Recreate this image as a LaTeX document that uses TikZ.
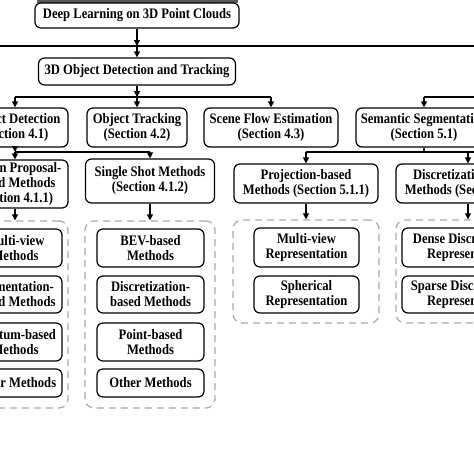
\documentclass[tikz,border=0pt]{standalone}
\usepackage{fontspec}
\setmainfont{Liberation Serif}[FakeStretch=0.87]
\usetikzlibrary{arrows.meta}
\newcommand\dgfont{\fontsize{14.5}{15}\selectfont\bfseries}
\begin{document}
\begin{tikzpicture}[x=1pt,y=-1pt,
  box/.style={draw, line width=1.2pt, rounded corners=6pt, align=center, inner sep=0pt, font=\dgfont},
  grp/.style={draw=gray!65, dash pattern=on 7pt off 5pt, line width=1.3pt, rounded corners=9pt, inner sep=0pt},
  arr/.style={-{Triangle[length=6pt,width=6pt]}, line width=1.2pt},
  ln/.style={line width=1.2pt}]
\useasboundingbox (0,0) rectangle (474,474);
\clip (0,0) rectangle (474,474);
\fill[white] (0,0) rectangle (474,474);
\fill[black!65] (37,0) rectangle (238,2.5);

% level 1 and 2
\node[box, minimum width=204pt, minimum height=25pt] (top) at (137,15.5) {Deep Learning on 3D Point Clouds};
\node[box, minimum width=197pt, minimum height=27pt] (odt) at (137,71.5) {3D Object Detection and Tracking};

% level 3
\node[box, minimum width=106pt, minimum height=39pt] (od) at (15,127.5) {Object Detection\\(Section 4.1)};
\node[box, minimum width=100pt, minimum height=39pt] (ot) at (137,127.5) {Object Tracking\\(Section 4.2)};
\node[box, minimum width=134pt, minimum height=39pt] (sf) at (271,127.5) {Scene Flow Estimation\\(Section 4.3)};
\node[box, minimum width=136pt, minimum height=39pt] (ss) at (424,127.5) {Semantic Segmentation\\(Section 5.1)};

% level 4
\node[box, minimum width=106pt, minimum height=48pt] (rp) at (15,184) {Region Proposal-\\based Methods\\(Section 4.1.1)};
\node[box, minimum width=129pt, minimum height=44pt] (ssm) at (150,181) {Single Shot Methods\\(Section 4.1.2)};
\node[box, minimum width=144pt, minimum height=39pt] (pb) at (306,183.5) {Projection-based\\Methods (Section 5.1.1)};
\node[box, minimum width=144pt, minimum height=39pt] (db) at (468,183.5) {Discretization-based\\Methods (Section 5.1.2)};

% dashed groups
\node[grp, minimum width=106pt, minimum height=187pt] (c1) at (15,314.5) {};
\node[grp, minimum width=130pt, minimum height=187pt] (c2) at (150,314.5) {};
\node[grp, minimum width=146pt, minimum height=103pt] (c3) at (306,271.5) {};
\node[grp, minimum width=144pt, minimum height=103pt] (c4) at (468,271.5) {};

% inner boxes, left column
\node[box, minimum width=94pt, minimum height=38pt] (l1) at (15,248) {Multi-view\\Methods};
\node[box, minimum width=94pt, minimum height=37pt] (l2) at (15,294.5) {Segmentation-\\based Methods};
\node[box, minimum width=94pt, minimum height=38pt] (l3) at (15,342) {Frustum-based\\Methods};
\node[box, minimum width=94pt, minimum height=28pt] (l4) at (15,383) {Other Methods};

% single shot column
\node[box, minimum width=107pt, minimum height=38pt] (s1) at (150.5,248) {BEV-based\\Methods};
\node[box, minimum width=107pt, minimum height=37pt] (s2) at (150.5,294.5) {Discretization-\\based Methods};
\node[box, minimum width=107pt, minimum height=38pt] (s3) at (150.5,342) {Point-based\\Methods};
\node[box, minimum width=107pt, minimum height=28pt] (s4) at (150.5,383) {Other Methods};

% projection column
\node[box, minimum width=105pt, minimum height=39pt] (p1) at (306.5,247.5) {Multi-view\\Representation};
\node[box, minimum width=105pt, minimum height=37pt] (p2) at (306.5,294.5) {Spherical\\Representation};

% discretization column
\node[box, minimum width=132pt, minimum height=39pt] (d1) at (468,247.5) {Dense Discretization\\Representation};
\node[box, minimum width=132pt, minimum height=37pt] (d2) at (468,294.5) {Sparse Discretization\\Representation};

% connectors
\coordinate (j1) at (137,46);
\coordinate (hl) at (0,46);
\coordinate (hr) at (474,46);
\draw[ln] (hl) -- (hr);
\draw[arr] (top) -- (j1);
\draw[arr] (j1) -- (odt);

\coordinate (j2) at (137,97);
\coordinate (j2l) at (15,97);
\coordinate (j2r) at (271,97);
\draw[ln] (j2l) -- (j2r);
\draw[arr] (odt) -- (j2);
\draw[arr] (j2) -- (ot);
\draw[arr] (j2l) -- (od);
\draw[arr] (j2r) -- (sf);

\coordinate (j3) at (424,97);
\coordinate (j3r) at (474,97);
\draw[ln] (j3r) -- (j3);
\draw[arr] (j3) -- (ss);

\coordinate (j4) at (15,152);
\coordinate (j4r) at (150,152);
\draw[arr] (od) -- (j4);
\draw[ln] (j4) -- (j4r);
\draw[arr] (j4) -- (rp);
\draw[arr] (j4r) -- (ssm);

\coordinate (j5) at (424,152);
\coordinate (j5l) at (306,152);
\coordinate (j5d) at (468,152);
\coordinate (j5r) at (474,152);
\draw[ln] (ss) -- (j5);
\draw[ln] (j5l) -- (j5r);
\draw[arr] (j5l) -- (pb);
\draw[arr] (j5d) -- (db);

\draw[arr] (rp) -- (c1);
\draw[arr] (ssm) -- (c2);
\draw[arr] (pb) -- (c3);
\draw[arr] (db) -- (c4);
\end{tikzpicture}
\end{document}
